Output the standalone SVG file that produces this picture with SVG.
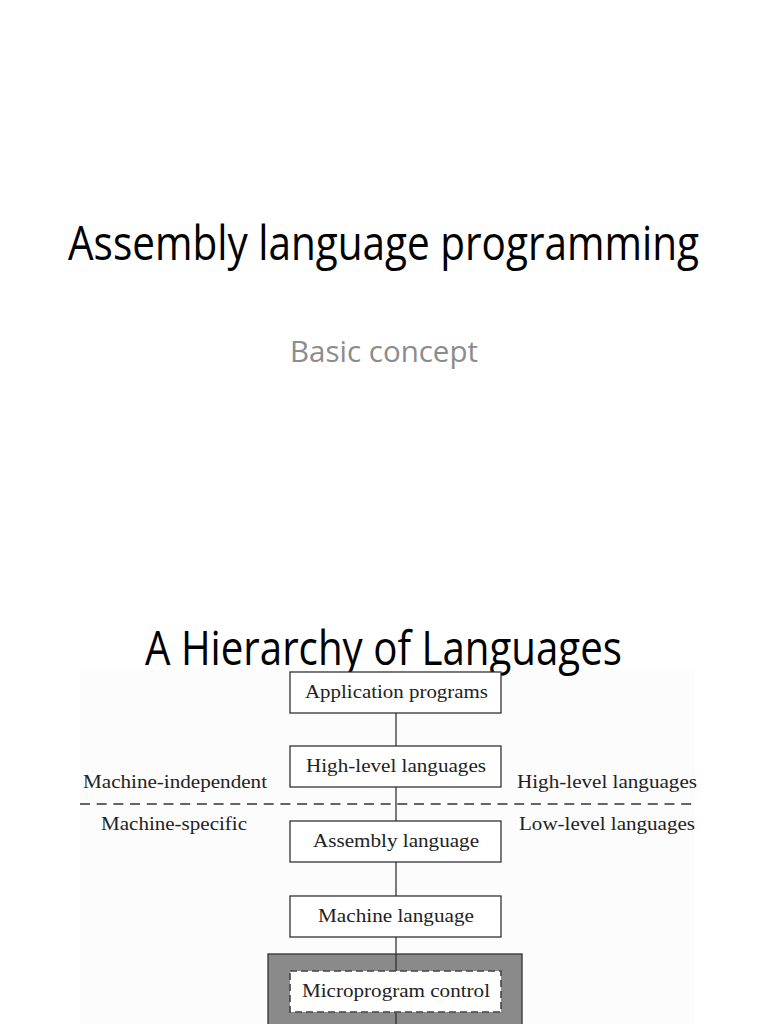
<svg xmlns="http://www.w3.org/2000/svg" width="768" height="1024" viewBox="0 0 768 1024">
<style>
.title{font-family:"Open Sans","Liberation Sans",sans-serif;fill:#000}
.sub{font-family:"Open Sans","Liberation Sans",sans-serif;fill:#8c8c8c;font-size:29px}
.lbl{font-family:"Liberation Serif","Times New Roman",serif;font-size:18px;fill:#222}
.box{fill:#fff;stroke:#333;stroke-width:1.3}
.conn{stroke:#333;stroke-width:1.3;fill:none}
</style>
<rect x="0" y="0" width="768" height="1024" fill="#fff"/>
<text class="title" x="68" y="260" font-size="47" textLength="631" lengthAdjust="spacingAndGlyphs">Assembly language programming</text>
<text class="sub" x="290" y="362" textLength="188" lengthAdjust="spacingAndGlyphs">Basic concept</text>
<rect x="80" y="671" width="615" height="353" fill="#fcfcfc"/>
<text class="title" x="145" y="665" font-size="47" textLength="477" lengthAdjust="spacingAndGlyphs">A Hierarchy of Languages</text>
<g id="connectors">
<line class="conn" x1="396" y1="713" x2="396" y2="746"/>
<line class="conn" x1="396" y1="787" x2="396" y2="821"/>
<line class="conn" x1="396" y1="862" x2="396" y2="896"/>
<line class="conn" x1="80" y1="804" x2="697" y2="804" stroke-dasharray="10 6.7"/>
</g>
<g id="hardware">
<rect x="268" y="954" width="254" height="80" fill="#8a8a8a" stroke="#333" stroke-width="1.3"/>
<line class="conn" x1="396" y1="937" x2="396" y2="971"/>
<line class="conn" x1="396" y1="1012" x2="396" y2="1024"/>
</g>
<g id="application">
<rect class="box" x="290" y="672" width="211" height="41"/>
<text class="lbl" x="305" y="698" textLength="183" lengthAdjust="spacingAndGlyphs">Application programs</text>
</g>
<g id="highlevel">
<rect class="box" x="290" y="746" width="211" height="41"/>
<text class="lbl" x="306" y="772" textLength="180" lengthAdjust="spacingAndGlyphs">High-level languages</text>
</g>
<g id="assembly">
<rect class="box" x="290" y="821" width="211" height="41"/>
<text class="lbl" x="313" y="847" textLength="166" lengthAdjust="spacingAndGlyphs">Assembly language</text>
</g>
<g id="machine">
<rect class="box" x="290" y="896" width="211" height="41"/>
<text class="lbl" x="318" y="922" textLength="156" lengthAdjust="spacingAndGlyphs">Machine language</text>
</g>
<g id="microprogram">
<rect x="290" y="971" width="211" height="41" fill="#fff" stroke="#444" stroke-width="1.6" stroke-dasharray="7 4"/>
<text class="lbl" x="302" y="997" textLength="188" lengthAdjust="spacingAndGlyphs">Microprogram control</text>
</g>
<g id="side-labels">
<text class="lbl" x="83" y="788" textLength="184" lengthAdjust="spacingAndGlyphs">Machine-independent</text>
<text class="lbl" x="517" y="788" textLength="180" lengthAdjust="spacingAndGlyphs">High-level languages</text>
<text class="lbl" x="101" y="830" textLength="146" lengthAdjust="spacingAndGlyphs">Machine-specific</text>
<text class="lbl" x="519" y="830" textLength="176" lengthAdjust="spacingAndGlyphs">Low-level languages</text>
</g>
</svg>
